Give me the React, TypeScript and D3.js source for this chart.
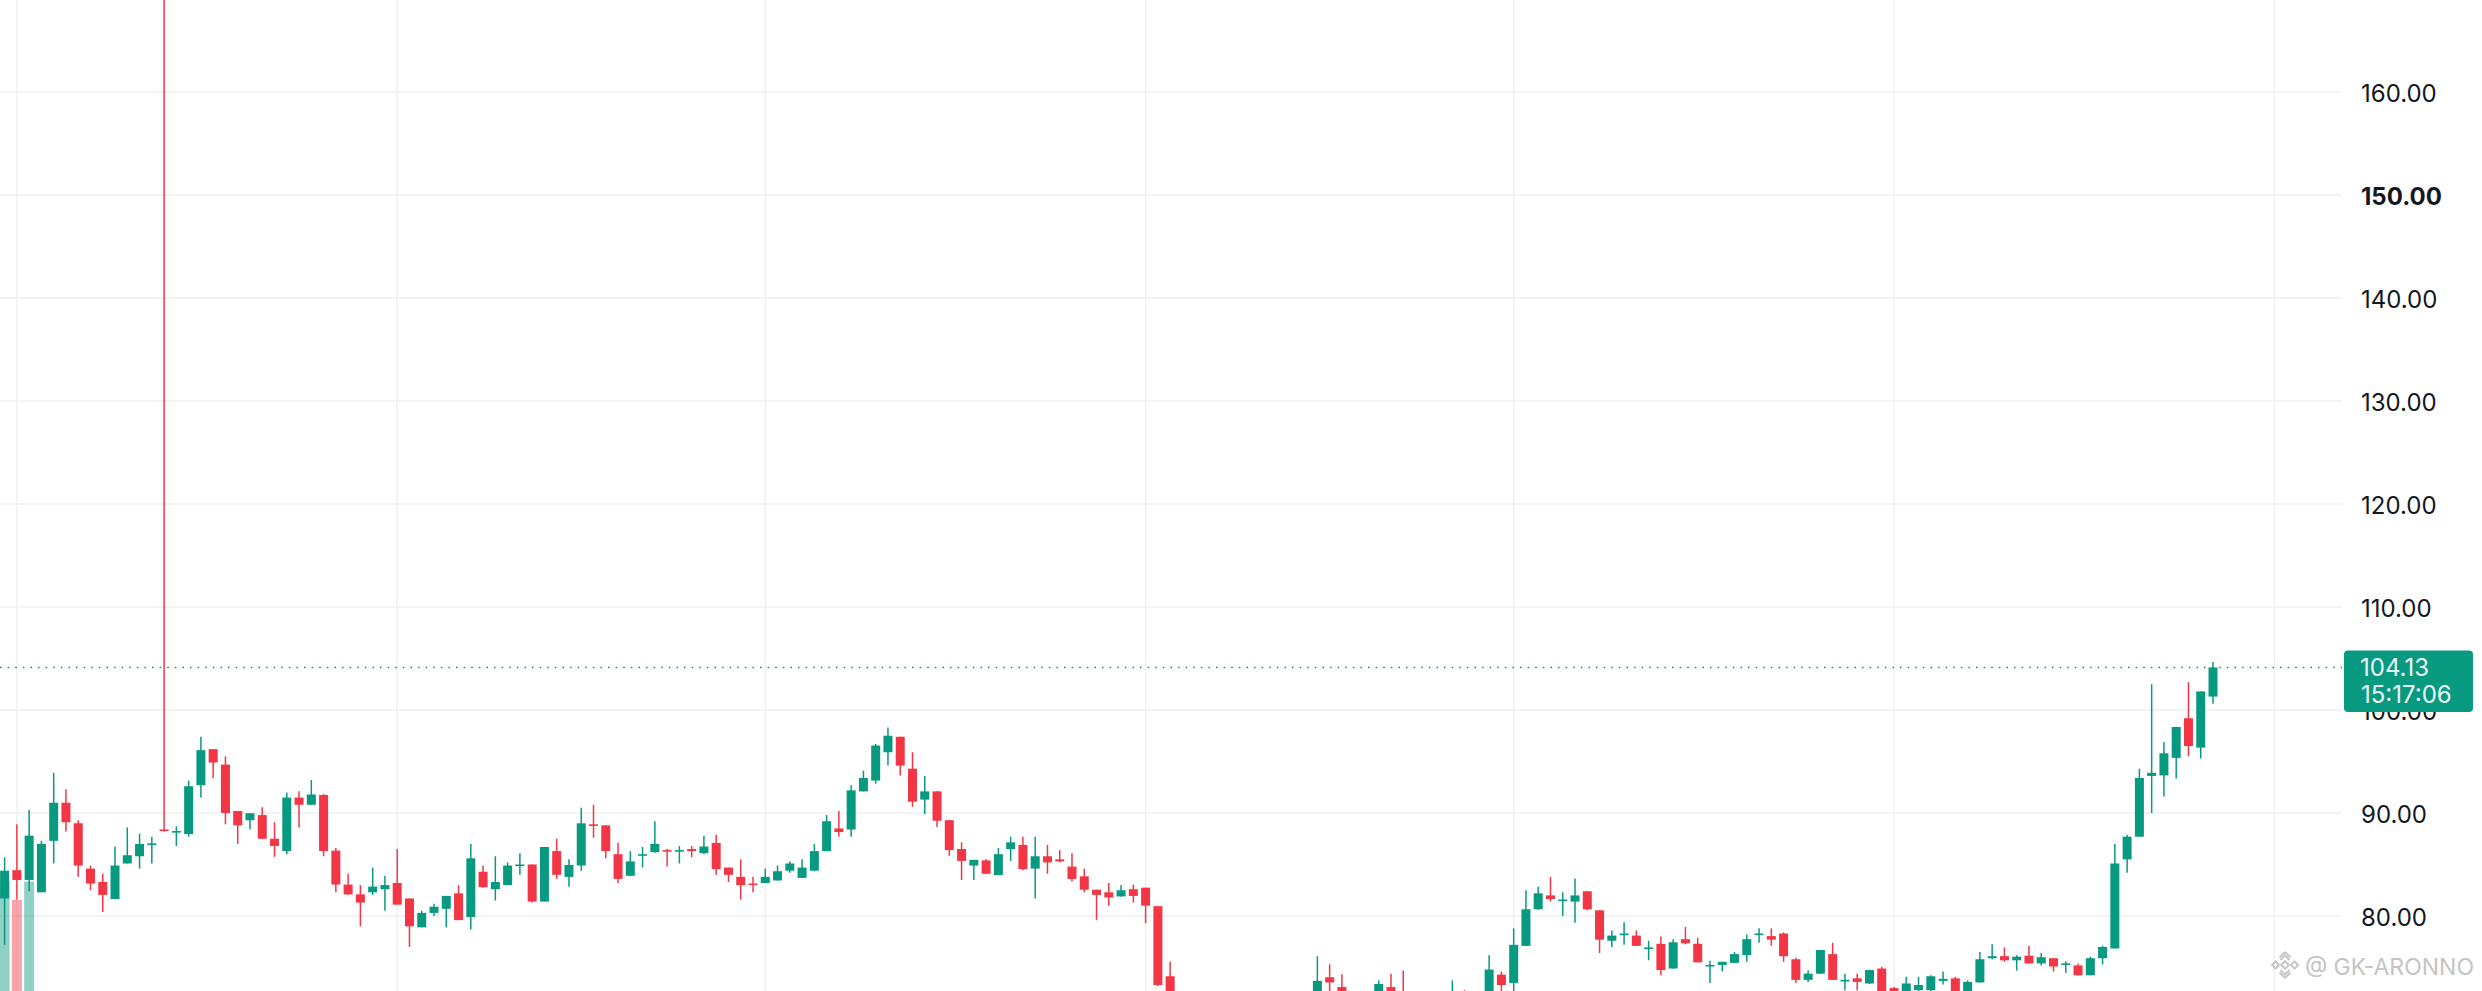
import React from 'react';
import * as d3 from 'd3';

const W = 2482;
const H = 991;

// Daily candles, first bar = 2025-02-28
const startDate = '2025-02-28';

const opens = [
  81.7, 84.45, 83.5, 82.3, 87.3, 91.0, 89.0, 84.6, 83.3, 81.65,
  85.1, 85.8, 86.95, 88.4, 88.1, 87.95, 92.7, 96.2, 94.7, 90.2,
  89.3, 89.8, 87.5, 86.3, 91.5, 90.8, 91.75, 86.35, 83.05, 82.1,
  82.3, 82.6, 83.2, 81.7, 78.9, 80.3, 80.7, 82.2, 79.9, 84.3,
  82.6, 83.0, 84.85, 85.0, 81.4, 86.3, 83.8, 84.9, 88.9, 88.8,
  86.0, 83.9, 85.9, 86.2, 86.4, 86.25, 86.5, 86.1, 87.1, 84.7,
  83.8, 83.15, 83.2, 83.45, 84.4, 83.7, 84.4, 86.3, 88.5, 88.4,
  92.1, 93.15, 95.9, 97.4, 94.3, 91.3, 92.1, 89.3, 86.5, 84.9,
  85.4, 83.97, 86.5, 86.9, 84.6, 85.8, 85.5, 84.8, 83.85, 82.55,
  82.3, 81.9, 82.6, 82.75, 80.95, 74.15, 70.4, 69.1, 70.0, 69.4,
  67.6, 68.9, 70.2, 69.0, 70.1, 71.0, 70.3, 71.2, 74.05, 73.1,
  71.6, 70.8, 71.5, 73.1, 72.4, 70.8, 71.0, 70.1, 71.5, 72.3,
  71.6, 71.9, 74.3, 73.5, 77.1, 80.65, 82.0, 81.5, 81.4, 82.4,
  80.55, 77.6, 78.15, 78.1, 76.8, 77.3, 74.9, 77.75, 77.3, 75.1,
  75.25, 75.45, 76.2, 78.2, 78.05, 78.3, 75.8, 73.8, 74.4, 76.3,
  73.7, 73.95, 73.45, 74.9, 73.0, 72.4, 72.8, 72.8, 73.7, 73.95,
  72.5, 73.55, 75.9, 76.1, 75.7, 76.15, 75.4, 75.9, 75.35, 75.2,
  74.25, 75.9, 76.85, 85.5, 87.7, 93.6, 93.65, 95.35, 99.2, 96.35,
  101.3,
];

const highs = [
  85.7, 88.9, 90.3, 87.3, 93.9, 92.3, 89.3, 84.9, 84.1, 86.75,
  88.6, 88.0, 87.7, 180.0, 88.7, 93.15, 97.4, 96.2, 95.5, 90.2,
  90.0, 90.55, 89.1, 92.0, 92.1, 93.2, 91.85, 86.6, 84.1, 83.0,
  84.7, 83.9, 86.5, 81.7, 80.5, 81.2, 81.95, 83.0, 87.0, 84.9,
  85.8, 85.2, 86.1, 85.0, 86.7, 87.5, 85.5, 90.5, 90.8, 88.8,
  87.1, 86.3, 86.7, 89.2, 86.5, 86.8, 86.8, 87.8, 87.9, 84.7,
  85.5, 83.8, 84.6, 84.9, 85.3, 85.5, 87.0, 89.8, 90.2, 92.7,
  94.1, 96.7, 98.3, 97.4, 95.9, 93.6, 92.1, 89.3, 87.15, 85.45,
  85.5, 86.6, 87.7, 87.7, 87.7, 86.9, 86.4, 86.1, 84.6, 82.55,
  83.2, 83.0, 83.05, 82.75, 81.0, 75.55, 71.8, 70.6, 71.5, 70.2,
  69.5, 70.8, 71.2, 70.5, 71.9, 72.2, 71.6, 76.1, 75.3, 74.35,
  72.3, 72.0, 73.75, 74.4, 74.7, 72.1, 72.4, 71.9, 73.75, 72.8,
  72.5, 76.2, 74.6, 78.8, 82.5, 82.85, 83.8, 82.3, 83.65, 82.4,
  80.55, 78.6, 79.4, 78.6, 77.6, 78.0, 77.75, 78.95, 77.9, 75.65,
  75.55, 76.5, 78.2, 78.8, 78.8, 78.4, 75.95, 74.7, 76.7, 77.4,
  74.4, 74.4, 74.8, 75.07, 73.1, 74.1, 74.1, 74.25, 74.6, 74.1,
  73.75, 76.5, 77.25, 76.95, 76.2, 77.1, 76.4, 75.9, 75.6, 75.4,
  76.05, 77.1, 87.0, 87.9, 94.3, 102.5, 96.9, 98.35, 102.7, 101.8,
  104.65,
];

const lows = [
  77.2, 81.6, 82.4, 82.3, 85.1, 88.2, 83.8, 82.5, 80.4, 81.65,
  85.1, 84.6, 85.1, 88.2, 86.8, 87.7, 91.5, 93.4, 88.9, 87.0,
  88.4, 87.5, 85.75, 86.0, 88.6, 90.8, 85.8, 82.3, 82.05, 79.0,
  82.05, 80.5, 81.1, 77.0, 78.9, 80.0, 78.9, 79.6, 78.7, 82.75,
  81.5, 83.0, 84.0, 81.3, 81.4, 83.6, 82.85, 84.4, 87.6, 85.6,
  83.2, 83.9, 84.7, 86.15, 84.8, 85.1, 85.7, 86.0, 84.0, 83.3,
  81.6, 82.3, 83.2, 83.45, 84.2, 83.7, 84.4, 86.3, 87.7, 87.7,
  92.1, 92.85, 94.6, 93.65, 90.6, 89.9, 88.65, 85.85, 83.5, 83.5,
  84.1, 83.97, 85.35, 84.45, 81.7, 84.1, 85.2, 83.35, 82.3, 79.6,
  81.0, 81.9, 81.3, 79.3, 73.2, 69.6, 68.2, 67.5, 68.9, 66.8,
  66.5, 68.0, 68.6, 67.9, 69.3, 69.8, 69.1, 70.6, 72.1, 70.9,
  70.2, 69.9, 70.9, 71.2, 70.2, 69.5, 69.8, 69.2, 70.8, 70.9,
  70.4, 71.5, 72.2, 72.4, 77.1, 80.6, 81.4, 80.0, 79.35, 80.55,
  76.4, 77.0, 77.2, 77.1, 75.7, 74.25, 74.9, 77.25, 75.5, 73.5,
  74.6, 75.45, 75.55, 77.4, 77.1, 75.55, 73.5, 73.6, 74.4, 73.8,
  72.8, 72.8, 73.4, 72.0, 72.2, 72.0, 72.5, 72.5, 73.35, 72.2,
  72.3, 73.55, 75.8, 75.55, 74.7, 75.4, 75.2, 74.6, 74.5, 74.2,
  74.25, 75.3, 76.85, 84.2, 87.7, 90.0, 91.6, 93.35, 95.5, 95.3,
  100.6,
];

const closes = [
  84.4, 83.5, 87.8, 87.0, 91.0, 89.1, 84.9, 83.15, 82.05, 84.9,
  85.9, 87.0, 87.05, 88.3, 88.25, 92.6, 96.1, 94.9, 90.0, 88.8,
  89.97, 87.5, 86.8, 91.5, 90.8, 91.8, 86.3, 83.05, 82.1, 81.3,
  82.85, 83.0, 81.1, 79.0, 80.3, 80.9, 81.95, 79.6, 85.6, 82.8,
  83.3, 84.9, 85.0, 81.4, 86.7, 84.0, 84.95, 89.0, 88.75, 86.3,
  83.6, 85.3, 86.0, 87.0, 86.25, 86.4, 86.3, 86.75, 84.55, 84.0,
  83.0, 83.0, 83.8, 84.35, 85.1, 84.7, 86.3, 89.2, 88.15, 92.2,
  93.4, 96.55, 97.5, 94.6, 91.1, 92.1, 89.25, 86.4, 85.35, 85.45,
  84.1, 86.0, 87.15, 84.55, 85.8, 85.2, 85.3, 83.6, 82.55, 82.05,
  81.8, 82.5, 81.95, 81.0, 73.3, 70.4, 69.1, 70.0, 69.4, 67.6,
  68.9, 70.2, 69.0, 70.1, 71.0, 70.3, 71.2, 73.7, 73.55, 71.6,
  70.8, 71.5, 73.4, 71.9, 70.8, 71.0, 70.1, 71.5, 72.3, 71.6,
  71.9, 74.8, 73.3, 77.2, 80.65, 82.2, 81.65, 81.6, 82.0, 80.65,
  77.7, 78.1, 78.3, 77.1, 76.95, 74.75, 77.45, 77.35, 75.5, 75.25,
  75.55, 76.3, 77.75, 78.3, 77.7, 76.1, 73.8, 74.4, 76.7, 73.8,
  73.8, 73.6, 74.75, 72.5, 72.6, 73.45, 73.3, 74.15, 73.9, 72.5,
  73.6, 75.8, 76.1, 75.7, 76.05, 75.4, 76.0, 75.1, 75.4, 74.25,
  75.9, 77.0, 85.1, 87.7, 93.4, 93.9, 95.8, 98.35, 96.5, 101.8,
  104.13,
];

// Volume (millions) of the first sessions; later bars are too short to reach the visible area
const volumes = [72.8, 66.7, 72.8, 31.0, 28.5, 24.0, 22.0, 19.5, 20.5, 18.0, 17.0, 15.5];

const priceTicks = [80, 90, 100, 110, 120, 130, 140, 150, 160];
const boldTick = 150;
const lastPrice = 104.13;
const countdown = '15:17:06';
const watermarkText = '@ GK-ARONNO';

const UP = '#089981';
const DOWN = '#F23645';
const GRID = '#efefef';
const FONT = 'Inter, "Noto Sans", sans-serif';

export default function App() {
  const start = new Date(startDate + 'T00:00:00Z');
  const dates = opens.map((_, i) => d3.utcDay.offset(start, i));

  const x = d3
    .scaleUtc()
    .domain([dates[0], dates[dates.length - 1]])
    .range([4.6, 2213]);
  const y = d3.scaleLinear().domain([80, 160]).range([916, 92]);
  const vol = d3.scaleLinear().domain([0, 100]).range([1100, 800]);

  const plotRight = 2342;
  const months = d3.utcMonth.range(start, d3.utcDay.offset(start, 200));
  const bodyW = 9;

  const lastY = y(lastPrice);

  return (
    <svg
      width={W}
      height={H}
      style={{ position: 'fixed', left: 0, top: 0, background: '#ffffff' }}
      fontFamily={FONT}
    >
      <rect x={0} y={0} width={W} height={H} fill="#ffffff" />
      {/* horizontal grid */}
      {priceTicks.concat([170]).map((t) => (
        <line key={'h' + t} x1={0} x2={plotRight} y1={y(t)} y2={y(t)} stroke={GRID} strokeWidth={1.3} />
      ))}
      {/* vertical month grid */}
      {months.map((m) => (
        <line key={'v' + m.getTime()} x1={x(m)} x2={x(m)} y1={0} y2={H} stroke={GRID} strokeWidth={1.3} />
      ))}

      {/* volume */}
      {volumes.map((v, i) => (
        <rect
          key={'vol' + i}
          x={x(dates[i]) - bodyW / 2 - 0.5}
          y={vol(v)}
          width={bodyW + 1}
          height={Math.max(0, vol(0) - vol(v))}
          fill={closes[i] >= opens[i] ? UP : DOWN}
          opacity={0.45}
        />
      ))}

      {/* last price dotted line */}
      <line
        x1={0}
        x2={plotRight}
        y1={lastY}
        y2={lastY}
        stroke={UP}
        strokeWidth={1.6}
        strokeDasharray="1.6 6"
      />

      {/* candles */}
      {dates.map((d, i) => {
        const o = opens[i];
        const c = closes[i];
        const col = c >= o ? UP : DOWN;
        const cx = x(d);
        const top = y(Math.max(o, c));
        const bot = y(Math.min(o, c));
        return (
          <g key={'c' + i}>
            <line x1={cx} x2={cx} y1={y(highs[i])} y2={y(lows[i])} stroke={col} strokeWidth={1.5} />
            <rect x={cx - bodyW / 2} y={top} width={bodyW} height={Math.max(1.6, bot - top)} fill={col} />
          </g>
        );
      })}

      {/* price axis labels */}
      {priceTicks.map((t) => (
        <text
          key={'t' + t}
          x={2361}
          y={y(t) + 9.6}
          fontSize={24}
          fontWeight={t === boldTick ? 700 : 400}
          fill="#131722"
        >
          {t.toFixed(2)}
        </text>
      ))}

      {/* last price label */}
      <rect x={2344} y={lastY - 17} width={129} height={61.5} rx={4} fill={UP} />
      <text x={2360} y={lastY + 8.8} fontSize={24} fill="#ffffff" opacity={0.92}>
        {lastPrice.toFixed(2)}
      </text>
      <text x={2361} y={lastY + 35.8} fontSize={24} fill="#ffffff" opacity={0.92}>
        {countdown}
      </text>

      {/* watermark */}
      <g transform="translate(2285,965)" fill="none" stroke="#c6c6c6" strokeWidth={2}>
        <path d="M0,-13 L5.5,-7.5 M0,-13 L-5.5,-7.5 M0,13 L5.5,7.5 M0,13 L-5.5,7.5" />
        <path d="M-13,0 L-9.5,-3.5 L-6,0 L-9.5,3.5 Z" />
        <path d="M13,0 L9.5,-3.5 L6,0 L9.5,3.5 Z" />
        <path d="M0,-3.8 L3.8,0 L0,3.8 L-3.8,0 Z" />
        <path d="M-4.5,-5 L0,-9.5 L4.5,-5 M-4.5,5 L0,9.5 L4.5,5" />
      </g>
      <text x={2474} y={975} fontSize={23} textAnchor="end" fill="#c4c4c4" fontWeight={400}>
        {watermarkText}
      </text>
    </svg>
  );
}
